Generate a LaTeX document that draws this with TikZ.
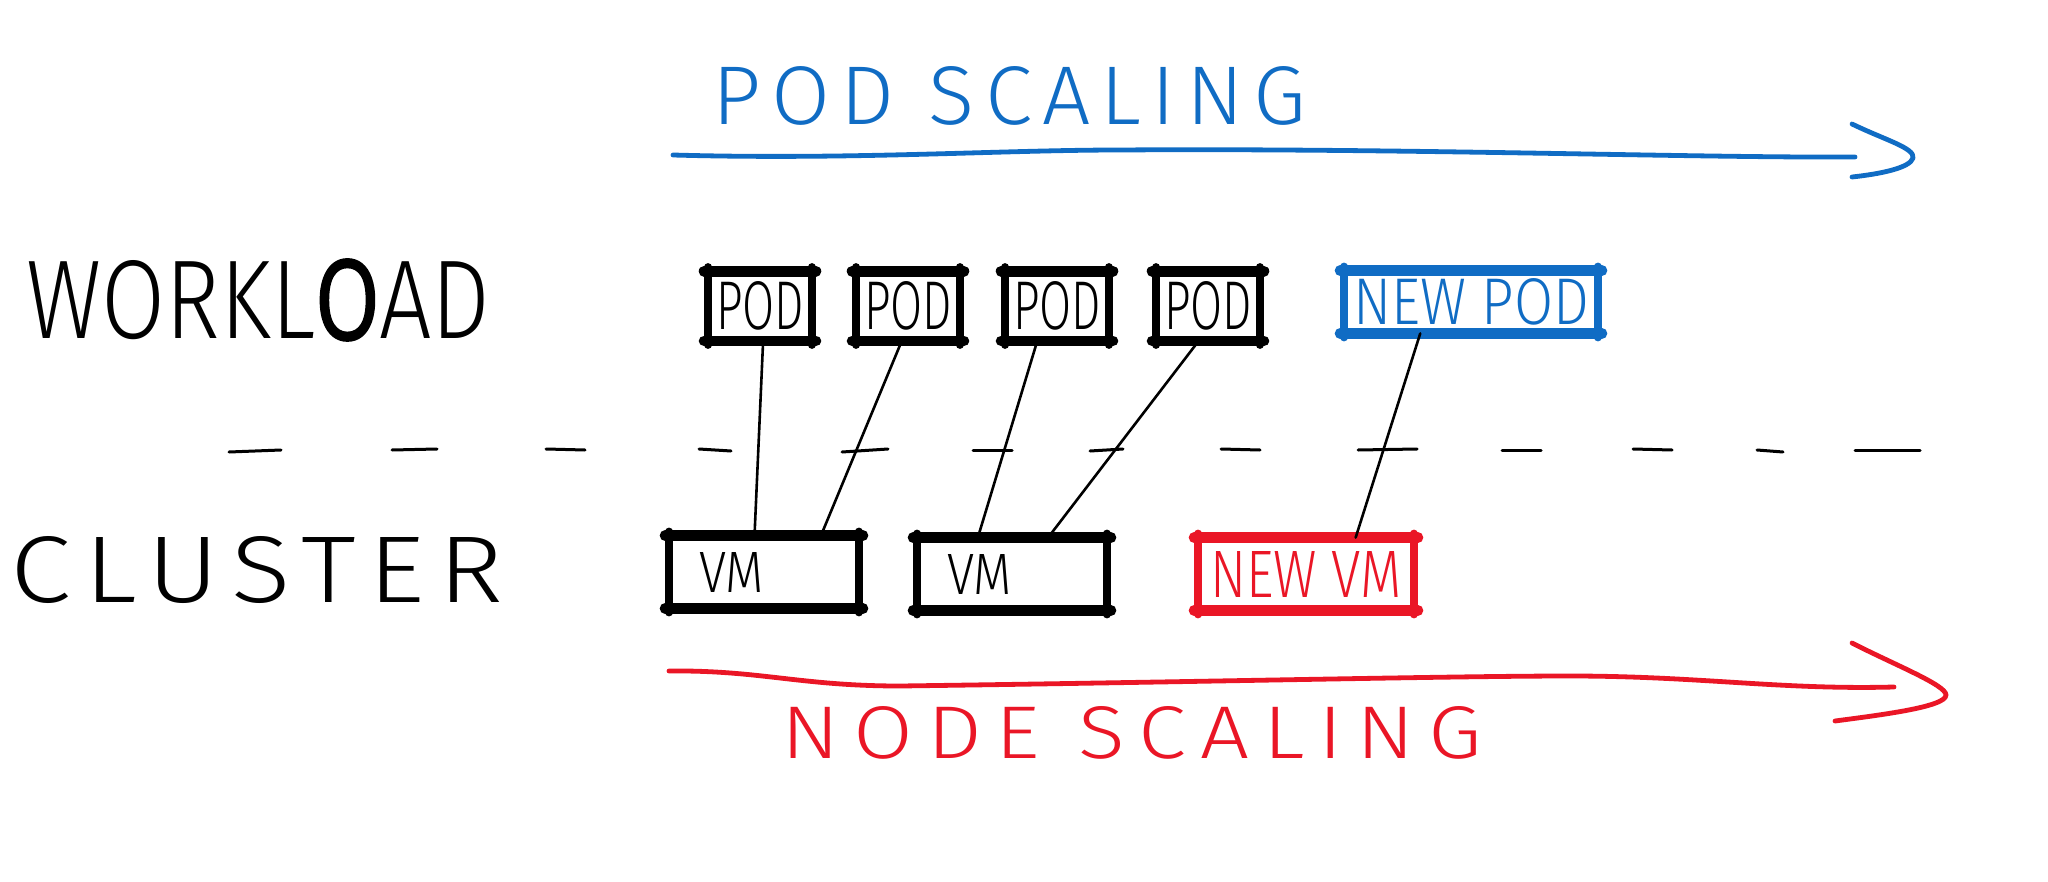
\documentclass[tikz,border=0pt]{standalone}
\usepackage{fontspec}
\usepackage{graphicx}
\newfontfamily\hand{Fira Sans Light}
\usetikzlibrary{calc}
\definecolor{sketchblue}{RGB}{16,108,196}
\definecolor{sketchred}{RGB}{234,22,38}
\newcommand\hw[3]{\resizebox{#1}{#2}{\hand #3}}
\newcommand\hws[4]{\resizebox{#1}{#2}{\hand\addfontfeature{LetterSpace=#3}#4}}
\newcommand\skedges[2]{%
  \draw[#2, line width=5.4pt, line cap=round] ([xshift=-2pt]#1.north west) -- ([xshift=2pt]#1.north east);
  \draw[#2, line width=5.4pt, line cap=round] ([xshift=-2pt]#1.south west) -- ([xshift=2pt]#1.south east);
  \draw[#2, line width=4pt, line cap=round] ([yshift=2pt]#1.north west) -- ([yshift=-2pt]#1.south west);
  \draw[#2, line width=4pt, line cap=round] ([yshift=2pt]#1.north east) -- ([yshift=-2pt]#1.south east);
}
\begin{document}
\begin{tikzpicture}[x=0.5pt,y=-0.5pt, line join=round,
  box/.style={inner sep=0pt},
  podbox/.style={box, minimum width=51.5pt, minimum height=34.5pt},
  vmbox/.style={box, minimum width=94.5pt, minimum height=36pt},
  wire/.style={line width=1.3pt, line cap=round},
  lbl/.style={inner sep=0pt, anchor=south west},
  dashseg/.style={line width=1.5pt, line cap=round},
  arrowline/.style={line width=2.4pt, line cap=round}]
\fill[white] (0,0) rectangle (2048,882);
\useasboundingbox (0,0) rectangle (2048,882);

% labels
\node[lbl, text=sketchblue] (podscaling) at (712,126) {\hws{297pt}{29pt}{12}{POD SCALING}};
\node[lbl] (workload) at (26,340) {\resizebox{232pt}{39pt}{\hand WORKL{\addfontfeature{FakeBold=4}O}AD}};
\node[lbl] (cluster) at (10,604) {\hws{246.5pt}{33pt}{12}{CLUSTER}};
\node[lbl, text=sketchred] (nodescaling) at (781,760) {\hws{350.5pt}{26pt}{16}{NODE SCALING}};

% pods
\node[podbox] (p1) at (760,306) {\hw{44pt}{24pt}{POD}};
\node[podbox] (p2) at (908,306) {\hw{44pt}{24pt}{POD}};
\node[podbox] (p3) at (1057,306) {\hw{44pt}{24pt}{POD}};
\node[podbox] (p4) at (1208,306) {\hw{44pt}{24pt}{POD}};
\node[box, minimum width=126.5pt, minimum height=31pt, text=sketchblue] (np) at (1471,302) {\hw{118pt}{23pt}{NEW POD}};
\skedges{p1}{black}
\skedges{p2}{black}
\skedges{p3}{black}
\skedges{p4}{black}
\skedges{np}{sketchblue}

% vms
\node[vmbox] (v1) at (764,572) {\hw{32.5pt}{20pt}{VM}\hspace*{32.5pt}};
\node[vmbox] (v2) at (1012,574) {\hw{32.5pt}{20pt}{VM}\hspace*{32.5pt}};
\node[vmbox, minimum width=107.5pt, text=sketchred] (nv) at (1306,574) {\hw{96pt}{23pt}{NEW VM}};
\skedges{v1}{black}
\skedges{v2}{black}
\skedges{nv}{sketchred}

% wires
\draw[wire] ($(p1.south west)!0.53!(p1.south east)$) -- ($(v1.north west)!0.45!(v1.north east)$);
\draw[wire] ($(p2.south west)!0.44!(p2.south east)$) -- ($(v1.north west)!0.80!(v1.north east)$);
\draw[wire] ($(p3.south west)!0.31!(p3.south east)$) -- ($(v2.north west)!0.32!(v2.north east)$);
\draw[wire] ($(p4.south west)!0.41!(p4.south east)$) -- ($(v2.north west)!0.69!(v2.north east)$);
\draw[wire] ($(np.south west)!0.30!(np.south east)$) -- ($(nv.north west)!0.73!(nv.north east)$);

% dashed separator
\foreach \a/\b/\ya/\yb in {229/281/452/450, 392/437/450/449, 546/585/449/450, 699/731/449/451,
  842/888/452/449, 973/1012/450/450, 1090/1123/451/449, 1221/1260/449/450, 1358/1417/450/449,
  1502/1541/450/450, 1633/1672/449/450, 1757/1783/450/452, 1855/1920/450/450}
  \draw[dashseg] (\a,\ya) -- (\b,\yb);

% pod scaling arrow
\coordinate (bs) at (673,155);
\coordinate (be) at (1855,157);
\draw[sketchblue, arrowline] (bs) .. controls (850,160) and (1000,150) .. (1120,150) .. controls (1400,148) and (1700,158) .. (be);
\draw[sketchblue, arrowline] (1852,124) .. controls (1885,140) and (1915,148) .. (1913,158) .. controls (1910,168) and (1880,174) .. (1852,177);

% node scaling arrow
\coordinate (rs) at (669,671);
\coordinate (re) at (1894,687);
\draw[sketchred, arrowline] (rs) .. controls (760,670) and (800,686) .. (900,686) .. controls (1200,682) and (1450,676) .. (1570,676) .. controls (1700,676) and (1780,690) .. (re);
\draw[sketchred, arrowline] (1852,643) .. controls (1895,665) and (1946,685) .. (1946,695) .. controls (1946,707) and (1880,715) .. (1835,721);
\end{tikzpicture}
\end{document}
